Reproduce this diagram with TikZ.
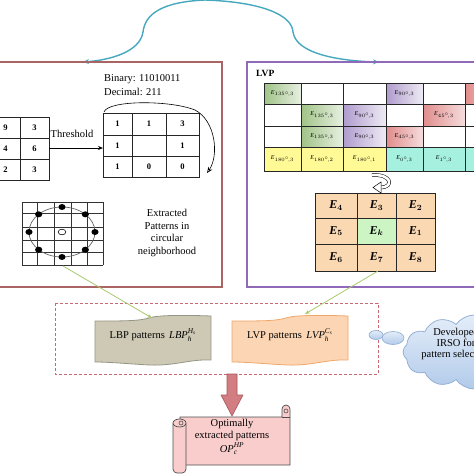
\documentclass[tikz,border=0pt]{standalone}
\usepackage{fontspec}
\setmainfont{Liberation Serif}
\usetikzlibrary{shapes.symbols,arrows.meta}
\definecolor{tealc}{RGB}{70,168,190}
\definecolor{boxred}{RGB}{170,100,100}
\definecolor{boxpurp}{RGB}{145,105,185}
\definecolor{arrgreen}{RGB}{168,200,110}
\definecolor{dashred}{RGB}{200,105,115}
\definecolor{lbpfill}{RGB}{205,201,180}
\definecolor{lbpdraw}{RGB}{150,150,135}
\definecolor{lvpfill}{RGB}{252,214,180}
\definecolor{lvpdraw}{RGB}{240,165,105}
\definecolor{cloudtop}{RGB}{228,237,249}
\definecolor{cloudbot}{RGB}{178,203,234}
\definecolor{clouddraw}{RGB}{140,170,210}
\definecolor{arrowfill}{RGB}{210,125,130}
\definecolor{arrowdraw}{RGB}{165,85,90}
\definecolor{scrollfill}{RGB}{250,205,205}
\definecolor{peach}{RGB}{250,216,178}
\definecolor{kgreen}{RGB}{205,245,195}
\definecolor{cgreen}{RGB}{160,195,135}
\definecolor{cpurp}{RGB}{175,155,205}
\definecolor{cred}{RGB}{225,140,140}
\definecolor{cyell}{RGB}{255,250,150}
\definecolor{ccyan}{RGB}{165,240,222}
\begin{document}
\begin{tikzpicture}[x=1pt,y=-1pt,
  txt/.style={font=\fontsize{10.5}{12.5}\selectfont, inner sep=0pt, align=center},
  num/.style={font=\bfseries\fontsize{8.5}{9}\selectfont, inner sep=0pt},
  elab/.style={font=\fontsize{6}{7}\selectfont, inner sep=0pt},
  biglab/.style={font=\boldmath\fontsize{12}{13}\selectfont, inner sep=0pt},
  gridline/.style={draw=black!85, line width=0.8pt},
  thingrid/.style={draw=black!80, line width=0.6pt},
  tealarrow/.style={draw=tealc, line width=1.4pt, -{Stealth[length=6pt,width=5pt]}},
  greenarrow/.style={draw=arrgreen, line width=0.8pt, -{Stealth[length=5pt,width=4pt]}},
  gcell/.style={left color=cgreen, right color=cgreen!25, draw=black!85, line width=0.8pt},
  pcell/.style={left color=cpurp, right color=cpurp!20, draw=black!85, line width=0.8pt},
  rcell/.style={left color=cred, right color=cred!30, draw=black!85, line width=0.8pt},
  ycell/.style={fill=cyell, draw=black!85, line width=0.8pt},
  ccell/.style={fill=ccyan, draw=black!85, line width=0.8pt},
  wcell/.style={fill=white, draw=black!85, line width=0.8pt},
  docshape/.style={line width=0.8pt}]
\useasboundingbox (0,0) rectangle (474,474);
\clip (0,0) rectangle (474,474);

% top curve
\coordinate (apex) at (205,0);
\coordinate (lArr) at (83,62);
\coordinate (rArr) at (379,62);
\draw[tealarrow] (apex) .. controls (160,2) and (145,15) .. (143,32) .. controls (140,52) and (110,60) .. (lArr);
\draw[tealarrow] (apex) .. controls (262,2) and (292,15) .. (293,32) .. controls (296,54) and (340,61) .. (rArr);

% panels
\draw[boxred, line width=1.2pt] (-5,62) rectangle (222,287);
\draw[boxpurp, line width=1.2pt] (247,62) rectangle (480,287);

% left input grid
\foreach \xa/\xb in {-9/20,20/49}
  \foreach \ya/\yb in {117/138,138/159,159/180}
    \draw[gridline] (\xa,\ya) rectangle (\xb,\yb);
\node[num] (a11) at (5.5,127.5) {9};
\node[num] (a21) at (5.5,148.5) {4};
\node[num] (a31) at (5.5,169.5) {2};
\node[num] (a12) at (34.5,127.5) {3};
\node[num] (a22) at (34.5,148.5) {6};
\node[num] (a32) at (34.5,169.5) {3};

\node[txt] (thr) at (72,134) {Threshold};
\coordinate (thA) at (49,148);
\coordinate (thB) at (103,148);
\draw[line width=0.7pt, -{Stealth[length=5pt,width=4pt]}] (thA) -- (thB);

% thresholded grid
\foreach \xa/\xb in {103/132,132/166,166/199}
  \foreach \ya/\yb in {113/135,135/156,156/177}
    \draw[gridline] (\xa,\ya) rectangle (\xb,\yb);
\node[num] (b11) at (117.5,124) {1};
\node[num] (b12) at (149,124) {1};
\node[num] (b13) at (182.5,124) {3};
\node[num] (b21) at (117.5,145.5) {1};
\node[num] (b23) at (182.5,145.5) {1};
\node[num] (b31) at (117.5,166.5) {1};
\node[num] (b32) at (149,166.5) {0};
\node[num] (b33) at (182.5,166.5) {0};

\node[txt, anchor=west] (bin) at (104,79) {Binary: 11010011};
\node[txt, anchor=west] (dec) at (104,92) {Decimal: 211};
\coordinate (cs) at (104,112);
\coordinate (ce) at (207,173);
\draw[line width=0.6pt, -{Stealth[open,length=6pt,width=5pt]}] (cs) .. controls (108,100) and (170,100) .. (195,110) .. controls (216,121) and (219,156) .. (ce);

% circular neighbourhood
\foreach \x in {22,37,54,71,87,103} \draw[thingrid] (\x,202) -- (\x,265);
\foreach \y in {202,213,227,240,252,265} \draw[thingrid] (22,\y) -- (103,\y);
\draw[black!60, line width=0.7pt] (62,232) ellipse [x radius=33pt, y radius=25pt];
\foreach \a in {0,45,...,315}
  \fill ({62+33*cos(\a)},{232+25*sin(\a)}) ellipse [x radius=3.6pt, y radius=3pt];
\draw[fill=white, line width=0.6pt] (62,232) ellipse [x radius=3.8pt, y radius=2.8pt];
\node[txt] (ext) at (167,233) {Extracted\\Patterns in\\circular\\neighborhood};

% LVP panel
\node[font=\bfseries\fontsize{9.5}{10}\selectfont, anchor=west, inner sep=0pt] (lvplab) at (256,73) {LVP};
\foreach \xa/\xb/\ya/\yb in {301/343/83/104,343/386/83/104,423/465/83/104,
  264/301/104/126,386/423/104/126,465/505/104/126,
  264/301/126/147,423/465/126/147,465/505/126/147}
  \path[wcell] (\xa,\ya) rectangle (\xb,\yb);
\path[gcell] (264,83) rectangle (301,104);
\path[gcell] (301,104) rectangle (343,126);
\path[gcell] (301,126) rectangle (343,147);
\path[pcell] (386,83) rectangle (423,104);
\path[pcell] (343,104) rectangle (386,126);
\path[pcell] (343,126) rectangle (386,147);
\path[rcell] (465,83) rectangle (505,104);
\path[rcell] (423,104) rectangle (465,126);
\path[rcell] (386,126) rectangle (423,147);
\path[ycell] (264,147) rectangle (301,171);
\path[ycell] (301,147) rectangle (343,171);
\path[ycell] (343,147) rectangle (386,171);
\path[ccell] (386,147) rectangle (423,171);
\path[ccell] (423,147) rectangle (465,171);
\path[ccell] (465,147) rectangle (505,171);
\node[elab] (u11) at (282.5,93.5) {$\mathit{E}_{135^\circ\!,3}$};
\node[elab] (u14) at (404.5,93.5) {$\mathit{E}_{90^\circ\!,3}$};
\node[elab] (u22) at (322,115) {$\mathit{E}_{135^\circ\!,3}$};
\node[elab] (u23) at (364.5,115) {$\mathit{E}_{90^\circ\!,3}$};
\node[elab] (u25) at (444,115) {$\mathit{E}_{45^\circ\!,3}$};
\node[elab] (u32) at (322,136.5) {$\mathit{E}_{135^\circ\!,3}$};
\node[elab] (u33) at (364.5,136.5) {$\mathit{E}_{90^\circ\!,3}$};
\node[elab] (u34) at (404.5,136.5) {$\mathit{E}_{45^\circ\!,3}$};
\node[elab] (u41) at (282.5,159) {$\mathit{E}_{180^\circ\!,3}$};
\node[elab] (u42) at (322,159) {$\mathit{E}_{180^\circ\!,2}$};
\node[elab] (u43) at (364.5,159) {$\mathit{E}_{180^\circ\!,1}$};
\node[elab] (u44) at (404.5,159) {$\mathit{E}_{0^\circ\!,3}$};
\node[elab] (u45) at (444,159) {$\mathit{E}_{1^\circ\!,3}$};

% U-turn arrow
\draw[double=white, double distance=2.6pt, line width=0.5pt] (372,175) .. controls (392,174) and (394,187) .. (381,187.5);
\draw[fill=white, line width=0.5pt] (381,182) -- (381,193) -- (373,187.5) -- cycle;

% lower E grid
\foreach \xa/\xb in {315/357,357/396,396/435}
  \foreach \ya/\yb in {193/218,218/244,244/271}
    \path[fill=peach, gridline] (\xa,\ya) rectangle (\xb,\yb);
\path[fill=kgreen, gridline] (357,218) rectangle (396,244);
\node[biglab] (E4) at (336,205.5) {$\mathit{E}_4$};
\node[biglab] (E3) at (376.5,205.5) {$\mathit{E}_3$};
\node[biglab] (E2) at (415.5,205.5) {$\mathit{E}_2$};
\node[biglab] (E5) at (336,231) {$\mathit{E}_5$};
\node[biglab] (Ek) at (376.5,231) {$\mathit{E}_k$};
\node[biglab] (E1) at (415.5,231) {$\mathit{E}_1$};
\node[biglab] (E6) at (336,257.5) {$\mathit{E}_6$};
\node[biglab] (E7) at (376.5,257.5) {$\mathit{E}_7$};
\node[biglab] (E8) at (415.5,257.5) {$\mathit{E}_8$};

% dashed group
\draw[dashred, line width=0.8pt, dash pattern=on 3pt off 2pt] (55,303) rectangle (378,374);

% wave documents
\begin{scope}[shift={(95,315)}]
\draw[docshape, fill=lbpfill, draw=lbpdraw] (0,6) .. controls (30,6) and (44,6) .. (54,3) .. controls (62,0) and (90,0) .. (116,1) -- (116,45) .. controls (95,44) and (80,51) .. (55,50) .. controls (35,49) and (15,47) .. (0,47) -- cycle;
\end{scope}
\begin{scope}[shift={(232,315)}]
\draw[docshape, fill=lvpfill, draw=lvpdraw] (0,6) .. controls (30,6) and (44,6) .. (54,3) .. controls (62,0) and (90,0) .. (116,1) -- (116,45) .. controls (95,44) and (80,51) .. (55,50) .. controls (35,49) and (15,47) .. (0,47) -- cycle;
\end{scope}
\node[txt] (lbpt) at (153,335) {LBP patterns \,$\mathit{LBP}^{\mathit{H_s}}_{\mathit{h}}$};
\node[txt] (lvpt) at (290,335) {LVP patterns \,$\mathit{LVP}^{\mathit{C_s}}_{\mathit{h}}$};

% connectors to documents
\coordinate (cgB) at (63,266);
\coordinate (lbpTop) at (152,318);
\draw[greenarrow] (cgB) -- (lbpTop);
\coordinate (e7B) at (378,271);
\coordinate (lvpTop) at (305,314);
\draw[greenarrow] (e7B) -- (lvpTop);

% cloud
\node[cloud, cloud puffs=12, cloud puff arc=110, aspect=2, minimum width=142pt, minimum height=74pt,
  draw=clouddraw, top color=cloudtop, bottom color=cloudbot, line width=0.7pt] (cloud) at (474,352) {};
\draw[draw=clouddraw, top color=cloudtop, bottom color=cloudbot, line width=0.6pt] (393,338) ellipse [x radius=11pt, y radius=6.5pt];
\draw[draw=clouddraw, top color=cloudtop, bottom color=cloudbot, line width=0.6pt] (376,335) ellipse [x radius=7pt, y radius=4.5pt];
\node[txt, font=\fontsize{10.5}{11}\selectfont] (cldt) at (456,344) {Developed\\IRSO for\\pattern selection};

% big arrow
\coordinate (dbB) at (232,374);
\coordinate (scT) at (232,416);
\draw[fill=arrowfill, draw=arrowdraw, line width=0.6pt] (227,374) -- (237,374) -- (237,395) -- (243,395) -- (scT) -- (221,395) -- (227,395) -- cycle;

% scroll
\draw[fill=scrollfill, draw=black!70, line width=0.7pt] (180,417) -- (282,417) -- (282,409) arc[start angle=180, end angle=0, radius=4pt] -- (290,465) -- (180,465) -- cycle;
\draw[black!70, line width=0.6pt] (286,411) circle[radius=2pt];
\draw[black!70, line width=0.6pt] (282,417) -- (290,417);
\draw[fill=scrollfill, draw=black!70, line width=0.7pt, rounded corners=4pt] (173,420) rectangle (186,473);
\draw[fill=scrollfill, draw=black!70, line width=0.7pt] (179.5,423) ellipse [x radius=6.5pt, y radius=4pt];
\draw[black!70, line width=0.6pt] (181,423) circle[radius=2pt];
\node[txt] (opt) at (232,437) {Optimally\\extracted patterns\\[1pt]$\mathit{OP}^{\mathit{HP}}_{\mathit{c}}$};
\end{tikzpicture}
\end{document}
